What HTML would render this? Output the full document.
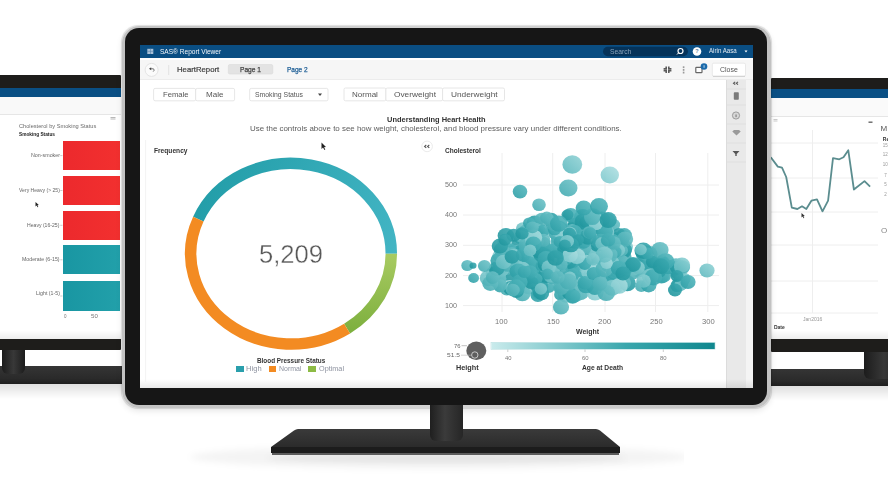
<!DOCTYPE html>
<html><head><meta charset="utf-8">
<style>
html,body{margin:0;padding:0}
body{width:888px;height:500px;overflow:hidden;position:relative;background:#fff;font-family:"Liberation Sans",sans-serif;}
.abs{position:absolute}
.t{position:absolute;white-space:nowrap;line-height:1}
.b{font-weight:bold}
</style></head><body><div id="w" style="position:absolute;left:0;top:0;width:888px;height:500px;overflow:hidden;filter:blur(0.35px)">

<!-- ===== LEFT MONITOR ===== -->
<div class="abs" style="left:-70px;top:75px;width:190.8px;height:274.5px;background:#1e1d1b;border-radius:10px 1px 1px 10px"></div>
<div class="abs" style="left:-70px;top:87.5px;width:190.8px;height:251px;background:#fff;overflow:hidden">
  <div class="abs" style="left:0;top:0;width:195px;height:9.7px;background:#0a4f84"></div>
  <div class="abs" style="left:0;top:9.7px;width:195px;height:17.3px;background:#f9f9f9;border-bottom:1px solid #e6e6e6"></div>
  <div class="abs" style="left:0;top:242px;width:195px;height:9px;background:linear-gradient(rgba(0,0,0,0),rgba(0,0,0,0.07))"></div>
</div>
<div class="abs" style="left:63px;top:140.7px;width:57px;height:29.7px;background:linear-gradient(90deg,#ec292d,#f2302f)"></div>
<div class="abs" style="left:63px;top:176px;width:57px;height:29px;background:linear-gradient(90deg,#ec292d,#f2302f)"></div>
<div class="abs" style="left:63px;top:210.5px;width:57px;height:29.5px;background:linear-gradient(90deg,#ec292d,#f2302f)"></div>
<div class="abs" style="left:63px;top:245.3px;width:57px;height:29px;background:linear-gradient(90deg,#1996a2,#22a0aa)"></div>
<div class="abs" style="left:63px;top:281px;width:57px;height:30px;background:linear-gradient(90deg,#1996a2,#22a0aa)"></div>
<svg class="abs" style="left:0;top:0" width="130" height="330">
  <g stroke="#aaa" stroke-width="0.6"><line x1="60.3" y1="155.6" x2="62.5" y2="155.6"/><line x1="60.3" y1="190.5" x2="62.5" y2="190.5"/><line x1="60.3" y1="225.3" x2="62.5" y2="225.3"/><line x1="60.3" y1="259.8" x2="62.5" y2="259.8"/><line x1="60.3" y1="296" x2="62.5" y2="296"/></g>
  <path d="M110.5,117.5 L115.5,117.5 M110.5,119 L115.5,119" stroke="#999" stroke-width="0.7"/>
  <path d="M35.5,202 L35.5,206.5 L36.6,205.5 L37.6,207.3 L38.3,207 L37.4,205.2 L38.8,205 Z" fill="#222"/>
</svg>
<!-- left stand -->
<div class="abs" style="left:0;top:383px;width:122px;height:16px;background:linear-gradient(rgba(0,0,0,0.13),rgba(0,0,0,0))"></div>
<div class="abs" style="left:-20px;top:365.5px;width:145px;height:18px;background:linear-gradient(#353535,#2a2a2a 70%,#1f1f1f)"></div>
<div class="abs" style="left:2px;top:349.5px;width:23px;height:24.5px;background:linear-gradient(90deg,#1c1c1c,#383838 50%,#1c1c1c);border-radius:0 0 6px 6px"></div>

<!-- ===== RIGHT MONITOR ===== -->
<div class="abs" style="left:770.5px;top:77.5px;width:200px;height:274.5px;background:#1e1d1b;border-radius:1px 10px 10px 1px"></div>
<div class="abs" style="left:770.5px;top:88.5px;width:130px;height:250.5px;background:#fff;overflow:hidden">
  <div class="abs" style="left:0;top:0;width:130px;height:9.5px;background:#0a4f84"></div>
  <div class="abs" style="left:0;top:9.5px;width:130px;height:18px;background:#fafafa;border-bottom:1px solid #e6e6e6"></div>
  <div class="abs" style="left:0;top:241.5px;width:130px;height:9px;background:linear-gradient(rgba(0,0,0,0),rgba(0,0,0,0.07))"></div>
</div>
<svg class="abs" style="left:0;top:0" width="888" height="500">
  <line x1="768" y1="143" x2="878" y2="143" stroke="#eee"/>
  <line x1="768" y1="178" x2="878" y2="178" stroke="#eee"/>
  <line x1="768" y1="212" x2="878" y2="212" stroke="#eee"/>
  <line x1="768" y1="245" x2="878" y2="245" stroke="#eee"/>
  <line x1="768" y1="281" x2="878" y2="281" stroke="#eee"/>
  <line x1="768" y1="313" x2="878" y2="313" stroke="#eee"/>
  <line x1="812.5" y1="130" x2="812.5" y2="313" stroke="#eee"/>
  <path d="M801.5,213 L801.5,217.5 L802.6,216.5 L803.6,218.3 L804.3,218 L803.4,216.2 L804.8,216 Z" fill="#333"/>
  <polyline points="770.8,157.3 777.8,166.6 782,167.7 786.2,177 791.8,207.7 797.4,209 802,206.3 806.3,209 811.4,200.7 817,199.3 822.5,211.3 828.1,200.7 833,158.2 839.3,159.3 843.5,157.3 848.3,150.3 853.9,189.5 864.5,181.1 870.1,186.7" fill="none" stroke="#5b8d8f" stroke-width="1.8" stroke-linejoin="round"/>
  <rect x="868.5" y="121.5" width="4" height="1.4" fill="#666"/><path d="M773.5,119.5 L777.5,119.5 M773.5,121 L777.5,121" stroke="#aaa" stroke-width="0.6"/>
</svg>
<!-- right stand -->
<div class="abs" style="left:768px;top:385.5px;width:130px;height:15px;background:linear-gradient(rgba(0,0,0,0.12),rgba(0,0,0,0))"></div>
<div class="abs" style="left:768px;top:369px;width:130px;height:16.5px;background:linear-gradient(#353535,#2a2a2a 70%,#1f1f1f)"></div>
<div class="abs" style="left:864px;top:351.5px;width:40px;height:27px;background:linear-gradient(90deg,#1c1c1c,#383838 50%,#1c1c1c);border-radius:0 0 6px 6px"></div>

<!-- ===== CENTER MONITOR ===== -->
<div class="abs" style="left:121.8px;top:25.5px;width:649px;height:382px;background:linear-gradient(90deg,#c2c2c2,#d4d4d4 50%,#c2c2c2);border-radius:17px;box-shadow:0 0 1px 0.3px rgba(0,0,0,0.12), 0 3px 6px rgba(0,0,0,0.10)"></div>
<div class="abs" style="left:125px;top:28.4px;width:641.7px;height:376.6px;background:#161616;border-radius:14px"></div>
<div class="abs" style="left:139.5px;top:45.2px;width:613px;height:343.3px;background:#fff;overflow:hidden">
  <!-- header -->
  <div class="abs" style="left:0;top:0;width:100%;height:12.5px;background:#0a4e83"></div>
  <!-- toolbar -->
  <div class="abs" style="left:0;top:14.5px;width:100%;height:20.5px;background:#f6f6f6;border-bottom:1px solid #ececec;box-sizing:border-box"></div>
  <!-- sidebar -->
  <div class="abs" style="left:586.5px;top:35px;width:19px;height:308.3px;background:#e9e9e9;border-left:1px solid #dcdcdc"></div>
  <div class="abs" style="left:606.5px;top:35px;width:7px;height:308.3px;background:#f4f4f4"></div>
  <!-- bottom shade -->
  <div class="abs" style="left:0;top:334px;width:100%;height:9.3px;background:linear-gradient(rgba(0,0,0,0),rgba(0,0,0,0.085))"></div>
</div>

<!-- header content -->
<svg class="abs" style="left:0;top:0" width="888" height="500">
  <rect x="147.3" y="48.8" width="6" height="5.2" fill="#a9c1d8"/>
  <rect x="147.3" y="50.9" width="6" height="0.6" fill="#5b86ad"/>
  <rect x="150" y="48.8" width="0.6" height="5.2" fill="#5b86ad"/>
  <rect x="603" y="46.8" width="85" height="9.4" rx="4.7" fill="#05335a"/>
  <circle cx="680.5" cy="51" r="2.5" fill="none" stroke="#fff" stroke-width="1.2"/>
  <line x1="678.7" y1="52.8" x2="677" y2="54.5" stroke="#fff" stroke-width="1"/>
  <circle cx="697" cy="51.5" r="4.3" fill="#fff"/>
  <path d="M744.5,50.5 L747.5,50.5 L746,52.5 Z" fill="#fff"/>
  <!-- toolbar icons -->
  <circle cx="151.6" cy="69.9" r="6.5" fill="#fbfbfb" stroke="#dedede" stroke-width="0.8"/>
  <path d="M150,68.8 L153.5,68.8 Q155,70.2 153.2,71.6" fill="none" stroke="#666" stroke-width="0.9"/>
  <path d="M149,68.8 L151.2,67.3 L151.2,70.3 Z" fill="#444"/>
  <line x1="168.7" y1="65" x2="168.7" y2="75" stroke="#dcdcdc" stroke-width="0.8"/>
  <rect x="228.3" y="64.5" width="44.5" height="9.5" rx="1.5" fill="#e3e3e3" stroke="#dadada" stroke-width="0.6"/>
  <!-- expand icon -->
  <path d="M663.6,68.8 L666.2,68.8 L666.2,66.4 M671.4,68.8 L668.8,68.8 L668.8,66.4 M663.6,70.6 L666.2,70.6 L666.2,73 M671.4,70.6 L668.8,70.6 L668.8,73" fill="none" stroke="#5a5a5a" stroke-width="1.6"/>
  <rect x="682.8" y="66.3" width="1.6" height="1.8" fill="#9a9a9a"/>
  <rect x="682.8" y="69" width="1.6" height="1.8" fill="#9a9a9a"/>
  <rect x="682.8" y="71.7" width="1.6" height="1.8" fill="#9a9a9a"/>
  <rect x="695.8" y="67.3" width="6.2" height="5.4" rx="0.6" fill="#fff" stroke="#666" stroke-width="1.2"/>
  <circle cx="704" cy="66.5" r="3.3" fill="#1a6aab"/>
  <rect x="703.7" y="65.2" width="0.7" height="2.6" fill="#fff"/>
  <rect x="712.3" y="63.2" width="33.2" height="13.2" rx="1.5" fill="#fff" stroke="#dedede" stroke-width="0.6"/>
  <line x1="713" y1="76.3" x2="745" y2="76.3" stroke="#c8c8c8" stroke-width="0.9"/>
</svg>

<!-- control buttons -->
<svg class="abs" style="left:0;top:0" width="888" height="500">
  <g fill="#fff" stroke="#e0e0e0" stroke-width="0.8">
    <rect x="153.6" y="88.4" width="42.1" height="12.4" rx="1.5"/>
    <rect x="195.7" y="88.4" width="38.9" height="12.4" rx="1.5"/>
    <rect x="249.7" y="88.4" width="78.3" height="12.4" rx="1.5"/>
    <rect x="344" y="88" width="41.9" height="12.8" rx="1.5"/>
    <rect x="385.9" y="88" width="56.7" height="12.8" rx="1.5"/>
    <rect x="442.6" y="88" width="61.9" height="12.8" rx="1.5"/>
  </g>
  <path d="M318,93.5 L322,93.5 L320,96 Z" fill="#444"/>
  <!-- sidebar icons -->
  <line x1="727" y1="89" x2="746" y2="89" stroke="#dadada" stroke-width="0.6"/>
  <line x1="727" y1="105" x2="746" y2="105" stroke="#dadada" stroke-width="0.6"/>
  <line x1="727" y1="124" x2="746" y2="124" stroke="#dadada" stroke-width="0.6"/>
  <line x1="727" y1="143" x2="746" y2="143" stroke="#dadada" stroke-width="0.6"/>
  <line x1="727" y1="162" x2="746" y2="162" stroke="#dadada" stroke-width="0.6"/>
  <path d="M735.2,81.8 L733.5,83.2 L735.2,84.6 M738,81.8 L736.3,83.2 L738,84.6" fill="none" stroke="#555" stroke-width="1.1"/>
  <rect x="733.8" y="92.3" width="5" height="7.5" rx="0.8" fill="#7a7a7a"/>
  <circle cx="736" cy="115.5" r="3.6" fill="#d6d6d6" stroke="#8a8a8a" stroke-width="0.8"/>
  <rect x="735.6" y="114.5" width="0.9" height="2.6" fill="#666"/>
  <path d="M732.3,131.5 L734,130 L739,130 L740.7,131.5 L736.5,135.5 Z" fill="#9a9a9a"/>
  <path d="M732.5,151 L739.5,151 L736.7,154 L736.7,156 L735.3,156 L735.3,154 Z" fill="#555"/>
  <!-- collapse button -->
  <circle cx="427.1" cy="146.4" r="5.3" fill="#fff" stroke="#e2e2e2" stroke-width="0.7"/>
  <path d="M426.3,145 L424.6,146.4 L426.3,147.8 M429.3,145 L427.6,146.4 L429.3,147.8" fill="none" stroke="#555" stroke-width="1.1"/>
  <!-- cursor -->
  <path d="M321.5,142.5 L321.5,149 L323,147.6 L324.5,150 L325.3,149.5 L324,147.2 L326,147 Z" fill="#222"/>
  <!-- panel border -->
  <line x1="145.6" y1="140" x2="145.6" y2="382" stroke="#efefef" stroke-width="0.8"/>
</svg>


<svg class="abs" style="left:0;top:0" width="888" height="500">
<defs><linearGradient id="tg" gradientUnits="userSpaceOnUse" x1="200" y1="180" x2="397" y2="253"><stop offset="0" stop-color="#229da8"/><stop offset="1" stop-color="#43b5c4"/></linearGradient>
<linearGradient id="gg" gradientUnits="userSpaceOnUse" x1="0" y1="253" x2="0" y2="330"><stop offset="0" stop-color="#a9cb62"/><stop offset="1" stop-color="#7eb03f"/></linearGradient></defs>
<path d="M198.33,219.14 A100.3,90.3 0 0 1 391.30,253.70" stroke="url(#tg)" stroke-width="11.5" fill="none"/>
<path d="M391.30,253.70 A100.3,90.3 0 0 1 347.09,328.56" stroke="url(#gg)" stroke-width="11.5" fill="none"/>
<path d="M347.09,328.56 A100.3,90.3 0 0 1 198.33,219.14" stroke="#f38b22" stroke-width="11.5" fill="none"/>
</svg>
<div class="abs" style="left:236px;top:366.2px;width:7.5px;height:6.3px;background:#2a9fac"></div>
<div class="abs" style="left:268.5px;top:366.2px;width:7.5px;height:6.3px;background:#f38b22"></div>
<div class="abs" style="left:308.4px;top:366.2px;width:7.5px;height:6.3px;background:#8dbb45"></div>

<svg class="abs" style="left:0;top:0" width="888" height="500">
<defs><linearGradient id="g1" x1="0" y1="1" x2="1" y2="0"><stop offset="0" stop-color="#1c939b"/><stop offset="1" stop-color="#3eaab1"/></linearGradient><linearGradient id="g2" x1="0" y1="1" x2="1" y2="0"><stop offset="0" stop-color="#2a9da5"/><stop offset="1" stop-color="#56b8be"/></linearGradient><linearGradient id="g3" x1="0" y1="1" x2="1" y2="0"><stop offset="0" stop-color="#3ea8af"/><stop offset="1" stop-color="#72c4c9"/></linearGradient><linearGradient id="g4" x1="0" y1="1" x2="1" y2="0"><stop offset="0" stop-color="#5ab7bd"/><stop offset="1" stop-color="#93d3d6"/></linearGradient><linearGradient id="g5" x1="0" y1="1" x2="1" y2="0"><stop offset="0" stop-color="#7ac7cc"/><stop offset="1" stop-color="#b0e0e2"/></linearGradient><linearGradient id="ag" x1="0" x2="1"><stop offset="0" stop-color="#c9ebec"/><stop offset="0.6" stop-color="#3aa7ad"/><stop offset="1" stop-color="#0f878e"/></linearGradient></defs>
<line x1="463" y1="185" x2="719" y2="185" stroke="#eeeeee" stroke-width="1"/><line x1="463" y1="215" x2="719" y2="215" stroke="#eeeeee" stroke-width="1"/><line x1="463" y1="245.3" x2="719" y2="245.3" stroke="#eeeeee" stroke-width="1"/><line x1="463" y1="275.6" x2="719" y2="275.6" stroke="#eeeeee" stroke-width="1"/><line x1="463" y1="305.6" x2="719" y2="305.6" stroke="#eeeeee" stroke-width="1"/><line x1="502" y1="153" x2="502" y2="312" stroke="#eeeeee" stroke-width="1"/><line x1="552.7" y1="153" x2="552.7" y2="312" stroke="#eeeeee" stroke-width="1"/><line x1="605" y1="153" x2="605" y2="312" stroke="#eeeeee" stroke-width="1"/><line x1="655.5" y1="153" x2="655.5" y2="312" stroke="#eeeeee" stroke-width="1"/><line x1="707.8" y1="153" x2="707.8" y2="312" stroke="#eeeeee" stroke-width="1"/>
<ellipse cx="551.2" cy="220.1" rx="7.8" ry="7.3" fill="url(#g1)" fill-opacity="0.9"/><ellipse cx="572.0" cy="229.1" rx="7.5" ry="7.0" fill="url(#g1)" fill-opacity="0.9"/><ellipse cx="505.9" cy="235.8" rx="8.3" ry="7.7" fill="url(#g1)" fill-opacity="0.9"/><ellipse cx="502.7" cy="262.1" rx="6.5" ry="6.0" fill="url(#g1)" fill-opacity="0.9"/><ellipse cx="525.3" cy="273.0" rx="7.2" ry="6.7" fill="url(#g2)" fill-opacity="0.9"/><ellipse cx="534.7" cy="223.0" rx="8.2" ry="7.6" fill="url(#g1)" fill-opacity="0.9"/><ellipse cx="606.4" cy="257.5" rx="8.5" ry="7.9" fill="url(#g4)" fill-opacity="0.9"/><ellipse cx="578.7" cy="265.9" rx="6.2" ry="5.7" fill="url(#g3)" fill-opacity="0.9"/><ellipse cx="572.0" cy="280.7" rx="6.4" ry="5.9" fill="url(#g3)" fill-opacity="0.9"/><ellipse cx="602.8" cy="283.9" rx="8.3" ry="7.7" fill="url(#g2)" fill-opacity="0.9"/><ellipse cx="633.0" cy="264.4" rx="7.6" ry="7.1" fill="url(#g3)" fill-opacity="0.9"/><ellipse cx="548.1" cy="262.8" rx="7.9" ry="7.3" fill="url(#g3)" fill-opacity="0.9"/><ellipse cx="542.6" cy="243.6" rx="7.9" ry="7.3" fill="url(#g1)" fill-opacity="0.9"/><ellipse cx="588.6" cy="226.8" rx="6.8" ry="6.3" fill="url(#g4)" fill-opacity="0.9"/><ellipse cx="534.5" cy="244.1" rx="8.5" ry="7.9" fill="url(#g1)" fill-opacity="0.9"/><ellipse cx="516.6" cy="245.2" rx="6.8" ry="6.3" fill="url(#g1)" fill-opacity="0.9"/><ellipse cx="571.4" cy="240.9" rx="8.5" ry="7.9" fill="url(#g2)" fill-opacity="0.9"/><ellipse cx="531.3" cy="253.5" rx="7.7" ry="7.1" fill="url(#g2)" fill-opacity="0.9"/><ellipse cx="542.0" cy="219.6" rx="7.5" ry="6.9" fill="url(#g3)" fill-opacity="0.9"/><ellipse cx="593.4" cy="266.8" rx="7.9" ry="7.3" fill="url(#g1)" fill-opacity="0.9"/><ellipse cx="580.5" cy="292.1" rx="8.7" ry="8.1" fill="url(#g3)" fill-opacity="0.9"/><ellipse cx="502.8" cy="268.4" rx="6.1" ry="5.7" fill="url(#g1)" fill-opacity="0.9"/><ellipse cx="584.3" cy="216.5" rx="7.4" ry="6.8" fill="url(#g3)" fill-opacity="0.9"/><ellipse cx="585.7" cy="236.2" rx="6.4" ry="5.9" fill="url(#g4)" fill-opacity="0.9"/><ellipse cx="555.4" cy="231.5" rx="8.4" ry="7.7" fill="url(#g1)" fill-opacity="0.9"/><ellipse cx="593.6" cy="225.5" rx="8.7" ry="8.1" fill="url(#g2)" fill-opacity="0.9"/><ellipse cx="512.3" cy="259.3" rx="6.0" ry="5.6" fill="url(#g3)" fill-opacity="0.9"/><ellipse cx="545.6" cy="269.3" rx="6.2" ry="5.7" fill="url(#g4)" fill-opacity="0.9"/><ellipse cx="537.4" cy="241.7" rx="6.4" ry="6.0" fill="url(#g4)" fill-opacity="0.9"/><ellipse cx="529.0" cy="259.2" rx="7.4" ry="6.9" fill="url(#g3)" fill-opacity="0.9"/><ellipse cx="529.1" cy="286.2" rx="8.8" ry="8.2" fill="url(#g4)" fill-opacity="0.9"/><ellipse cx="522.9" cy="228.9" rx="7.1" ry="6.6" fill="url(#g4)" fill-opacity="0.9"/><ellipse cx="529.9" cy="256.8" rx="7.0" ry="6.5" fill="url(#g1)" fill-opacity="0.9"/><ellipse cx="522.6" cy="265.5" rx="6.9" ry="6.4" fill="url(#g4)" fill-opacity="0.9"/><ellipse cx="560.2" cy="227.0" rx="6.6" ry="6.1" fill="url(#g2)" fill-opacity="0.9"/><ellipse cx="554.3" cy="253.3" rx="8.8" ry="8.2" fill="url(#g3)" fill-opacity="0.9"/><ellipse cx="680.2" cy="283.2" rx="8.1" ry="7.5" fill="url(#g3)" fill-opacity="0.9"/><ellipse cx="581.9" cy="279.3" rx="6.2" ry="5.7" fill="url(#g1)" fill-opacity="0.9"/><ellipse cx="679.1" cy="285.7" rx="6.4" ry="5.9" fill="url(#g4)" fill-opacity="0.9"/><ellipse cx="611.1" cy="252.4" rx="8.7" ry="8.0" fill="url(#g1)" fill-opacity="0.9"/><ellipse cx="600.7" cy="218.1" rx="6.0" ry="5.5" fill="url(#g4)" fill-opacity="0.9"/><ellipse cx="622.9" cy="257.7" rx="8.7" ry="8.0" fill="url(#g2)" fill-opacity="0.9"/><ellipse cx="677.5" cy="271.2" rx="8.3" ry="7.7" fill="url(#g3)" fill-opacity="0.9"/><ellipse cx="572.5" cy="296.8" rx="7.4" ry="6.9" fill="url(#g3)" fill-opacity="0.9"/><ellipse cx="513.4" cy="256.1" rx="8.5" ry="7.9" fill="url(#g4)" fill-opacity="0.9"/><ellipse cx="517.9" cy="252.3" rx="8.1" ry="7.5" fill="url(#g3)" fill-opacity="0.9"/><ellipse cx="493.6" cy="273.2" rx="7.5" ry="6.9" fill="url(#g3)" fill-opacity="0.9"/><ellipse cx="534.7" cy="232.7" rx="8.2" ry="7.6" fill="url(#g3)" fill-opacity="0.9"/><ellipse cx="613.4" cy="224.9" rx="6.7" ry="6.2" fill="url(#g3)" fill-opacity="0.9"/><ellipse cx="597.3" cy="252.8" rx="8.7" ry="8.0" fill="url(#g4)" fill-opacity="0.9"/><ellipse cx="595.1" cy="292.6" rx="8.6" ry="8.0" fill="url(#g5)" fill-opacity="0.9"/><ellipse cx="627.3" cy="283.4" rx="8.6" ry="7.9" fill="url(#g1)" fill-opacity="0.9"/><ellipse cx="515.8" cy="271.8" rx="6.6" ry="6.1" fill="url(#g4)" fill-opacity="0.9"/><ellipse cx="574.9" cy="256.6" rx="6.9" ry="6.4" fill="url(#g2)" fill-opacity="0.9"/><ellipse cx="554.4" cy="250.9" rx="8.0" ry="7.4" fill="url(#g2)" fill-opacity="0.9"/><ellipse cx="552.9" cy="267.4" rx="7.4" ry="6.9" fill="url(#g1)" fill-opacity="0.9"/><ellipse cx="593.3" cy="254.5" rx="6.9" ry="6.4" fill="url(#g2)" fill-opacity="0.9"/><ellipse cx="492.7" cy="273.8" rx="7.2" ry="6.6" fill="url(#g1)" fill-opacity="0.9"/><ellipse cx="537.3" cy="265.8" rx="6.6" ry="6.1" fill="url(#g2)" fill-opacity="0.9"/><ellipse cx="508.4" cy="257.7" rx="6.6" ry="6.1" fill="url(#g1)" fill-opacity="0.9"/><ellipse cx="525.3" cy="249.6" rx="7.9" ry="7.3" fill="url(#g2)" fill-opacity="0.9"/><ellipse cx="521.7" cy="252.5" rx="8.7" ry="8.0" fill="url(#g1)" fill-opacity="0.9"/><ellipse cx="624.8" cy="270.0" rx="7.9" ry="7.3" fill="url(#g3)" fill-opacity="0.9"/><ellipse cx="663.1" cy="275.7" rx="7.8" ry="7.2" fill="url(#g2)" fill-opacity="0.9"/><ellipse cx="563.8" cy="255.6" rx="8.8" ry="8.1" fill="url(#g3)" fill-opacity="0.9"/><ellipse cx="533.3" cy="234.3" rx="7.3" ry="6.7" fill="url(#g1)" fill-opacity="0.9"/><ellipse cx="520.3" cy="238.5" rx="6.2" ry="5.7" fill="url(#g2)" fill-opacity="0.9"/><ellipse cx="590.6" cy="225.1" rx="7.4" ry="6.9" fill="url(#g1)" fill-opacity="0.9"/><ellipse cx="500.0" cy="286.7" rx="6.4" ry="5.9" fill="url(#g3)" fill-opacity="0.9"/><ellipse cx="531.2" cy="263.6" rx="7.5" ry="6.9" fill="url(#g4)" fill-opacity="0.9"/><ellipse cx="611.2" cy="281.4" rx="8.0" ry="7.4" fill="url(#g3)" fill-opacity="0.9"/><ellipse cx="512.9" cy="277.4" rx="7.8" ry="7.2" fill="url(#g1)" fill-opacity="0.9"/><ellipse cx="661.5" cy="276.5" rx="7.4" ry="6.9" fill="url(#g2)" fill-opacity="0.9"/><ellipse cx="641.4" cy="286.2" rx="6.3" ry="5.9" fill="url(#g3)" fill-opacity="0.9"/><ellipse cx="645.6" cy="261.8" rx="8.3" ry="7.7" fill="url(#g1)" fill-opacity="0.9"/><ellipse cx="661.8" cy="263.4" rx="8.5" ry="7.9" fill="url(#g3)" fill-opacity="0.9"/><ellipse cx="562.9" cy="250.1" rx="6.1" ry="5.6" fill="url(#g1)" fill-opacity="0.9"/><ellipse cx="617.8" cy="273.1" rx="7.4" ry="6.8" fill="url(#g1)" fill-opacity="0.9"/><ellipse cx="644.1" cy="252.4" rx="8.3" ry="7.7" fill="url(#g4)" fill-opacity="0.9"/><ellipse cx="538.4" cy="277.9" rx="6.5" ry="6.1" fill="url(#g4)" fill-opacity="0.9"/><ellipse cx="623.0" cy="251.0" rx="8.4" ry="7.8" fill="url(#g1)" fill-opacity="0.9"/><ellipse cx="585.4" cy="273.4" rx="8.2" ry="7.6" fill="url(#g3)" fill-opacity="0.9"/><ellipse cx="553.0" cy="270.2" rx="8.0" ry="7.4" fill="url(#g3)" fill-opacity="0.9"/><ellipse cx="539.1" cy="272.2" rx="8.0" ry="7.4" fill="url(#g3)" fill-opacity="0.9"/><ellipse cx="587.7" cy="275.9" rx="6.8" ry="6.3" fill="url(#g3)" fill-opacity="0.9"/><ellipse cx="582.6" cy="216.9" rx="8.5" ry="7.9" fill="url(#g2)" fill-opacity="0.9"/><ellipse cx="499.9" cy="279.7" rx="6.7" ry="6.2" fill="url(#g2)" fill-opacity="0.9"/><ellipse cx="509.2" cy="287.0" rx="7.4" ry="6.9" fill="url(#g5)" fill-opacity="0.9"/><ellipse cx="504.8" cy="241.5" rx="7.4" ry="6.8" fill="url(#g5)" fill-opacity="0.9"/><ellipse cx="588.2" cy="250.1" rx="6.8" ry="6.3" fill="url(#g1)" fill-opacity="0.9"/><ellipse cx="571.6" cy="242.6" rx="6.3" ry="5.8" fill="url(#g2)" fill-opacity="0.9"/><ellipse cx="559.4" cy="247.8" rx="6.7" ry="6.2" fill="url(#g1)" fill-opacity="0.9"/><ellipse cx="576.0" cy="236.6" rx="8.2" ry="7.6" fill="url(#g4)" fill-opacity="0.9"/><ellipse cx="600.8" cy="277.0" rx="6.1" ry="5.6" fill="url(#g4)" fill-opacity="0.9"/><ellipse cx="570.4" cy="266.5" rx="6.3" ry="5.9" fill="url(#g4)" fill-opacity="0.9"/><ellipse cx="508.0" cy="252.2" rx="6.9" ry="6.4" fill="url(#g2)" fill-opacity="0.9"/><ellipse cx="536.3" cy="278.9" rx="7.8" ry="7.3" fill="url(#g2)" fill-opacity="0.9"/><ellipse cx="624.3" cy="235.1" rx="7.6" ry="7.0" fill="url(#g2)" fill-opacity="0.9"/><ellipse cx="506.3" cy="269.3" rx="6.2" ry="5.7" fill="url(#g3)" fill-opacity="0.9"/><ellipse cx="536.8" cy="262.0" rx="8.5" ry="7.9" fill="url(#g4)" fill-opacity="0.9"/><ellipse cx="526.2" cy="232.0" rx="8.1" ry="7.5" fill="url(#g3)" fill-opacity="0.9"/><ellipse cx="590.7" cy="268.0" rx="8.5" ry="7.8" fill="url(#g2)" fill-opacity="0.9"/><ellipse cx="622.1" cy="248.2" rx="6.8" ry="6.3" fill="url(#g4)" fill-opacity="0.9"/><ellipse cx="514.0" cy="257.2" rx="7.9" ry="7.3" fill="url(#g4)" fill-opacity="0.9"/><ellipse cx="638.8" cy="269.7" rx="8.2" ry="7.6" fill="url(#g3)" fill-opacity="0.9"/><ellipse cx="498.7" cy="282.7" rx="5.9" ry="5.5" fill="url(#g1)" fill-opacity="0.9"/><ellipse cx="546.8" cy="217.8" rx="6.7" ry="6.2" fill="url(#g3)" fill-opacity="0.9"/><ellipse cx="576.2" cy="281.4" rx="6.2" ry="5.8" fill="url(#g2)" fill-opacity="0.9"/><ellipse cx="595.4" cy="263.3" rx="7.1" ry="6.5" fill="url(#g2)" fill-opacity="0.9"/><ellipse cx="674.7" cy="269.7" rx="6.2" ry="5.7" fill="url(#g2)" fill-opacity="0.9"/><ellipse cx="642.6" cy="255.5" rx="6.5" ry="6.1" fill="url(#g2)" fill-opacity="0.9"/><ellipse cx="548.6" cy="287.0" rx="6.6" ry="6.1" fill="url(#g2)" fill-opacity="0.9"/><ellipse cx="538.3" cy="293.9" rx="6.3" ry="5.8" fill="url(#g3)" fill-opacity="0.9"/><ellipse cx="589.1" cy="223.7" rx="6.6" ry="6.1" fill="url(#g2)" fill-opacity="0.9"/><ellipse cx="611.1" cy="246.5" rx="8.0" ry="7.4" fill="url(#g1)" fill-opacity="0.9"/><ellipse cx="566.5" cy="294.8" rx="8.5" ry="7.9" fill="url(#g4)" fill-opacity="0.9"/><ellipse cx="522.0" cy="270.2" rx="7.5" ry="6.9" fill="url(#g3)" fill-opacity="0.9"/><ellipse cx="562.3" cy="238.2" rx="6.4" ry="6.0" fill="url(#g1)" fill-opacity="0.9"/><ellipse cx="563.6" cy="281.9" rx="6.8" ry="6.3" fill="url(#g4)" fill-opacity="0.9"/><ellipse cx="560.1" cy="294.7" rx="6.0" ry="5.6" fill="url(#g2)" fill-opacity="0.9"/><ellipse cx="534.6" cy="267.5" rx="7.1" ry="6.6" fill="url(#g2)" fill-opacity="0.9"/><ellipse cx="536.5" cy="279.7" rx="8.6" ry="7.9" fill="url(#g2)" fill-opacity="0.9"/><ellipse cx="559.9" cy="238.5" rx="8.7" ry="8.1" fill="url(#g1)" fill-opacity="0.9"/><ellipse cx="537.7" cy="276.7" rx="6.9" ry="6.4" fill="url(#g2)" fill-opacity="0.9"/><ellipse cx="545.4" cy="277.2" rx="7.7" ry="7.1" fill="url(#g4)" fill-opacity="0.9"/><ellipse cx="531.5" cy="252.5" rx="8.7" ry="8.1" fill="url(#g4)" fill-opacity="0.9"/><ellipse cx="565.0" cy="230.1" rx="7.2" ry="6.7" fill="url(#g3)" fill-opacity="0.9"/><ellipse cx="509.2" cy="254.7" rx="6.0" ry="5.5" fill="url(#g5)" fill-opacity="0.9"/><ellipse cx="613.6" cy="237.8" rx="6.9" ry="6.4" fill="url(#g2)" fill-opacity="0.9"/><ellipse cx="652.4" cy="264.6" rx="7.4" ry="6.9" fill="url(#g2)" fill-opacity="0.9"/><ellipse cx="589.7" cy="276.0" rx="7.2" ry="6.7" fill="url(#g2)" fill-opacity="0.9"/><ellipse cx="509.2" cy="251.1" rx="8.5" ry="7.9" fill="url(#g2)" fill-opacity="0.9"/><ellipse cx="506.7" cy="289.1" rx="6.8" ry="6.3" fill="url(#g3)" fill-opacity="0.9"/><ellipse cx="538.9" cy="230.4" rx="6.7" ry="6.2" fill="url(#g3)" fill-opacity="0.9"/><ellipse cx="534.4" cy="229.5" rx="6.4" ry="5.9" fill="url(#g5)" fill-opacity="0.9"/><ellipse cx="535.4" cy="229.6" rx="7.5" ry="6.9" fill="url(#g3)" fill-opacity="0.9"/><ellipse cx="657.9" cy="270.3" rx="8.8" ry="8.2" fill="url(#g1)" fill-opacity="0.9"/><ellipse cx="578.6" cy="242.4" rx="8.5" ry="7.9" fill="url(#g2)" fill-opacity="0.9"/><ellipse cx="611.2" cy="267.0" rx="6.6" ry="6.1" fill="url(#g2)" fill-opacity="0.9"/><ellipse cx="488.4" cy="278.2" rx="8.6" ry="8.0" fill="url(#g4)" fill-opacity="0.9"/><ellipse cx="520.7" cy="236.2" rx="6.5" ry="6.0" fill="url(#g4)" fill-opacity="0.9"/><ellipse cx="589.0" cy="253.4" rx="7.1" ry="6.6" fill="url(#g4)" fill-opacity="0.9"/><ellipse cx="567.0" cy="260.0" rx="7.8" ry="7.2" fill="url(#g1)" fill-opacity="0.9"/><ellipse cx="623.7" cy="244.8" rx="6.7" ry="6.2" fill="url(#g2)" fill-opacity="0.9"/><ellipse cx="626.9" cy="246.8" rx="6.1" ry="5.6" fill="url(#g4)" fill-opacity="0.9"/><ellipse cx="604.6" cy="240.7" rx="7.2" ry="6.6" fill="url(#g4)" fill-opacity="0.9"/><ellipse cx="648.7" cy="285.2" rx="7.8" ry="7.2" fill="url(#g2)" fill-opacity="0.9"/><ellipse cx="569.4" cy="293.3" rx="7.3" ry="6.7" fill="url(#g1)" fill-opacity="0.9"/><ellipse cx="684.0" cy="278.7" rx="6.4" ry="6.0" fill="url(#g2)" fill-opacity="0.9"/><ellipse cx="542.3" cy="257.1" rx="8.6" ry="8.0" fill="url(#g1)" fill-opacity="0.9"/><ellipse cx="564.4" cy="280.4" rx="8.2" ry="7.6" fill="url(#g4)" fill-opacity="0.9"/><ellipse cx="616.5" cy="287.5" rx="6.4" ry="5.9" fill="url(#g4)" fill-opacity="0.9"/><ellipse cx="668.4" cy="267.1" rx="7.7" ry="7.2" fill="url(#g2)" fill-opacity="0.9"/><ellipse cx="567.9" cy="256.8" rx="7.1" ry="6.5" fill="url(#g1)" fill-opacity="0.9"/><ellipse cx="522.4" cy="293.4" rx="8.4" ry="7.8" fill="url(#g3)" fill-opacity="0.9"/><ellipse cx="611.9" cy="260.0" rx="7.8" ry="7.2" fill="url(#g2)" fill-opacity="0.9"/><ellipse cx="622.8" cy="235.8" rx="6.7" ry="6.2" fill="url(#g2)" fill-opacity="0.9"/><ellipse cx="624.9" cy="249.7" rx="7.2" ry="6.7" fill="url(#g1)" fill-opacity="0.9"/><ellipse cx="578.3" cy="266.9" rx="8.3" ry="7.7" fill="url(#g4)" fill-opacity="0.9"/><ellipse cx="519.5" cy="252.3" rx="6.3" ry="5.8" fill="url(#g1)" fill-opacity="0.9"/><ellipse cx="558.9" cy="241.5" rx="8.3" ry="7.7" fill="url(#g3)" fill-opacity="0.9"/><ellipse cx="498.1" cy="278.3" rx="8.2" ry="7.6" fill="url(#g3)" fill-opacity="0.9"/><ellipse cx="497.6" cy="280.2" rx="8.5" ry="7.9" fill="url(#g3)" fill-opacity="0.9"/><ellipse cx="557.2" cy="280.6" rx="6.4" ry="5.9" fill="url(#g5)" fill-opacity="0.9"/><ellipse cx="610.2" cy="266.6" rx="6.6" ry="6.1" fill="url(#g2)" fill-opacity="0.9"/><ellipse cx="517.1" cy="283.5" rx="6.3" ry="5.8" fill="url(#g3)" fill-opacity="0.9"/><ellipse cx="579.7" cy="257.1" rx="7.9" ry="7.4" fill="url(#g5)" fill-opacity="0.9"/><ellipse cx="566.7" cy="284.8" rx="6.7" ry="6.2" fill="url(#g2)" fill-opacity="0.9"/><ellipse cx="607.0" cy="241.0" rx="8.2" ry="7.6" fill="url(#g3)" fill-opacity="0.9"/><ellipse cx="530.6" cy="266.5" rx="8.7" ry="8.1" fill="url(#g2)" fill-opacity="0.9"/><ellipse cx="512.9" cy="266.6" rx="7.2" ry="6.7" fill="url(#g3)" fill-opacity="0.9"/><ellipse cx="604.8" cy="235.4" rx="7.5" ry="6.9" fill="url(#g3)" fill-opacity="0.9"/><ellipse cx="529.3" cy="263.4" rx="7.7" ry="7.1" fill="url(#g2)" fill-opacity="0.9"/><ellipse cx="560.6" cy="287.8" rx="6.4" ry="5.9" fill="url(#g1)" fill-opacity="0.9"/><ellipse cx="501.1" cy="268.8" rx="8.5" ry="7.9" fill="url(#g4)" fill-opacity="0.9"/><ellipse cx="539.3" cy="286.2" rx="8.8" ry="8.1" fill="url(#g1)" fill-opacity="0.9"/><ellipse cx="621.9" cy="261.2" rx="7.0" ry="6.4" fill="url(#g3)" fill-opacity="0.9"/><ellipse cx="607.3" cy="265.2" rx="7.4" ry="6.9" fill="url(#g3)" fill-opacity="0.9"/><ellipse cx="596.9" cy="245.6" rx="6.6" ry="6.1" fill="url(#g1)" fill-opacity="0.9"/><ellipse cx="594.0" cy="269.3" rx="7.8" ry="7.2" fill="url(#g2)" fill-opacity="0.9"/><ellipse cx="652.3" cy="276.5" rx="6.0" ry="5.5" fill="url(#g4)" fill-opacity="0.9"/><ellipse cx="576.1" cy="296.2" rx="6.2" ry="5.7" fill="url(#g3)" fill-opacity="0.9"/><ellipse cx="579.5" cy="227.6" rx="6.2" ry="5.8" fill="url(#g2)" fill-opacity="0.9"/><ellipse cx="498.8" cy="255.7" rx="6.4" ry="6.0" fill="url(#g5)" fill-opacity="0.9"/><ellipse cx="531.9" cy="279.4" rx="8.7" ry="8.1" fill="url(#g4)" fill-opacity="0.9"/><ellipse cx="612.3" cy="242.9" rx="8.4" ry="7.8" fill="url(#g5)" fill-opacity="0.9"/><ellipse cx="632.4" cy="271.5" rx="8.8" ry="8.1" fill="url(#g3)" fill-opacity="0.9"/><ellipse cx="583.9" cy="258.1" rx="6.0" ry="5.5" fill="url(#g1)" fill-opacity="0.9"/><ellipse cx="576.2" cy="277.5" rx="7.6" ry="7.0" fill="url(#g2)" fill-opacity="0.9"/><ellipse cx="604.3" cy="222.2" rx="6.0" ry="5.6" fill="url(#g1)" fill-opacity="0.9"/><ellipse cx="632.4" cy="268.4" rx="8.0" ry="7.4" fill="url(#g4)" fill-opacity="0.9"/><ellipse cx="680.4" cy="280.4" rx="6.2" ry="5.7" fill="url(#g4)" fill-opacity="0.9"/><ellipse cx="618.9" cy="233.7" rx="6.2" ry="5.8" fill="url(#g1)" fill-opacity="0.9"/><ellipse cx="654.2" cy="269.6" rx="6.8" ry="6.3" fill="url(#g2)" fill-opacity="0.9"/><ellipse cx="542.2" cy="276.6" rx="7.0" ry="6.5" fill="url(#g2)" fill-opacity="0.9"/><ellipse cx="649.2" cy="265.2" rx="7.3" ry="6.8" fill="url(#g2)" fill-opacity="0.9"/><ellipse cx="576.0" cy="282.3" rx="7.0" ry="6.4" fill="url(#g4)" fill-opacity="0.9"/><ellipse cx="662.1" cy="262.5" rx="6.8" ry="6.3" fill="url(#g2)" fill-opacity="0.9"/><ellipse cx="588.1" cy="284.7" rx="6.5" ry="6.0" fill="url(#g3)" fill-opacity="0.9"/><ellipse cx="607.2" cy="220.9" rx="8.3" ry="7.7" fill="url(#g4)" fill-opacity="0.9"/><ellipse cx="648.7" cy="254.0" rx="8.8" ry="8.2" fill="url(#g3)" fill-opacity="0.9"/><ellipse cx="653.1" cy="267.8" rx="7.0" ry="6.5" fill="url(#g2)" fill-opacity="0.9"/><ellipse cx="572.9" cy="269.6" rx="7.0" ry="6.5" fill="url(#g2)" fill-opacity="0.9"/><ellipse cx="537.9" cy="295.1" rx="7.4" ry="6.9" fill="url(#g2)" fill-opacity="0.9"/><ellipse cx="507.9" cy="264.4" rx="7.9" ry="7.4" fill="url(#g3)" fill-opacity="0.9"/><ellipse cx="622.2" cy="239.8" rx="6.9" ry="6.4" fill="url(#g1)" fill-opacity="0.9"/><ellipse cx="551.1" cy="251.3" rx="7.9" ry="7.4" fill="url(#g2)" fill-opacity="0.9"/><ellipse cx="546.3" cy="275.3" rx="8.4" ry="7.8" fill="url(#g1)" fill-opacity="0.9"/><ellipse cx="612.6" cy="239.9" rx="6.6" ry="6.1" fill="url(#g2)" fill-opacity="0.9"/><ellipse cx="516.2" cy="270.8" rx="6.5" ry="6.0" fill="url(#g1)" fill-opacity="0.9"/><ellipse cx="575.7" cy="224.6" rx="7.8" ry="7.2" fill="url(#g1)" fill-opacity="0.9"/><ellipse cx="541.8" cy="293.5" rx="7.3" ry="6.8" fill="url(#g1)" fill-opacity="0.9"/><ellipse cx="567.8" cy="284.1" rx="8.0" ry="7.4" fill="url(#g3)" fill-opacity="0.9"/><ellipse cx="536.6" cy="278.8" rx="6.0" ry="5.5" fill="url(#g2)" fill-opacity="0.9"/><ellipse cx="621.1" cy="250.4" rx="6.9" ry="6.3" fill="url(#g3)" fill-opacity="0.9"/><ellipse cx="568.0" cy="276.3" rx="6.4" ry="5.9" fill="url(#g4)" fill-opacity="0.9"/><ellipse cx="573.2" cy="250.5" rx="7.8" ry="7.2" fill="url(#g2)" fill-opacity="0.9"/><ellipse cx="594.0" cy="271.1" rx="8.5" ry="7.9" fill="url(#g5)" fill-opacity="0.9"/><ellipse cx="624.0" cy="282.8" rx="7.1" ry="6.5" fill="url(#g3)" fill-opacity="0.9"/><ellipse cx="527.9" cy="276.6" rx="8.7" ry="8.1" fill="url(#g2)" fill-opacity="0.9"/><ellipse cx="599.0" cy="276.7" rx="7.4" ry="6.9" fill="url(#g3)" fill-opacity="0.9"/><ellipse cx="643.3" cy="250.7" rx="8.8" ry="8.2" fill="url(#g1)" fill-opacity="0.9"/><ellipse cx="566.3" cy="281.3" rx="6.3" ry="5.8" fill="url(#g3)" fill-opacity="0.9"/><ellipse cx="572.5" cy="274.8" rx="7.0" ry="6.5" fill="url(#g2)" fill-opacity="0.9"/><ellipse cx="522.5" cy="269.2" rx="8.0" ry="7.4" fill="url(#g4)" fill-opacity="0.9"/><ellipse cx="544.8" cy="259.8" rx="6.3" ry="5.8" fill="url(#g4)" fill-opacity="0.9"/><ellipse cx="583.3" cy="283.4" rx="6.6" ry="6.1" fill="url(#g4)" fill-opacity="0.9"/><ellipse cx="562.8" cy="230.4" rx="7.2" ry="6.7" fill="url(#g1)" fill-opacity="0.9"/><ellipse cx="585.9" cy="285.5" rx="8.3" ry="7.7" fill="url(#g2)" fill-opacity="0.9"/><ellipse cx="533.9" cy="235.2" rx="7.3" ry="6.8" fill="url(#g2)" fill-opacity="0.9"/><ellipse cx="513.6" cy="235.3" rx="7.1" ry="6.5" fill="url(#g1)" fill-opacity="0.9"/><ellipse cx="510.9" cy="288.1" rx="7.8" ry="7.2" fill="url(#g1)" fill-opacity="0.9"/><ellipse cx="544.5" cy="265.8" rx="7.6" ry="7.1" fill="url(#g4)" fill-opacity="0.9"/><ellipse cx="531.4" cy="282.6" rx="7.0" ry="6.4" fill="url(#g1)" fill-opacity="0.9"/><ellipse cx="525.9" cy="245.2" rx="7.5" ry="6.9" fill="url(#g3)" fill-opacity="0.9"/><ellipse cx="676.0" cy="265.8" rx="8.2" ry="7.6" fill="url(#g3)" fill-opacity="0.9"/><ellipse cx="545.3" cy="254.4" rx="6.6" ry="6.1" fill="url(#g1)" fill-opacity="0.9"/><ellipse cx="602.1" cy="231.4" rx="6.6" ry="6.1" fill="url(#g1)" fill-opacity="0.9"/><ellipse cx="584.1" cy="260.7" rx="7.4" ry="6.8" fill="url(#g5)" fill-opacity="0.9"/><ellipse cx="511.8" cy="254.1" rx="7.4" ry="6.8" fill="url(#g3)" fill-opacity="0.9"/><ellipse cx="611.9" cy="278.5" rx="6.4" ry="5.9" fill="url(#g2)" fill-opacity="0.9"/><ellipse cx="583.0" cy="261.3" rx="7.9" ry="7.3" fill="url(#g4)" fill-opacity="0.9"/><ellipse cx="582.5" cy="247.6" rx="8.9" ry="8.2" fill="url(#g3)" fill-opacity="0.9"/><ellipse cx="496.6" cy="268.7" rx="7.8" ry="7.2" fill="url(#g1)" fill-opacity="0.9"/><ellipse cx="586.5" cy="280.7" rx="6.4" ry="5.9" fill="url(#g2)" fill-opacity="0.9"/><ellipse cx="638.0" cy="267.5" rx="6.9" ry="6.4" fill="url(#g4)" fill-opacity="0.9"/><ellipse cx="625.0" cy="239.1" rx="8.2" ry="7.6" fill="url(#g3)" fill-opacity="0.9"/><ellipse cx="572.9" cy="260.4" rx="8.4" ry="7.7" fill="url(#g2)" fill-opacity="0.9"/><ellipse cx="558.1" cy="254.4" rx="6.9" ry="6.4" fill="url(#g2)" fill-opacity="0.9"/><ellipse cx="588.3" cy="216.8" rx="6.5" ry="6.0" fill="url(#g4)" fill-opacity="0.9"/><ellipse cx="545.8" cy="263.6" rx="7.8" ry="7.2" fill="url(#g4)" fill-opacity="0.9"/><ellipse cx="569.3" cy="262.4" rx="7.1" ry="6.6" fill="url(#g1)" fill-opacity="0.9"/><ellipse cx="613.9" cy="270.8" rx="8.2" ry="7.6" fill="url(#g5)" fill-opacity="0.9"/><ellipse cx="599.6" cy="242.6" rx="6.4" ry="5.9" fill="url(#g3)" fill-opacity="0.9"/><ellipse cx="633.2" cy="264.6" rx="7.9" ry="7.3" fill="url(#g2)" fill-opacity="0.9"/><ellipse cx="518.3" cy="271.4" rx="8.5" ry="7.8" fill="url(#g2)" fill-opacity="0.9"/><ellipse cx="561.2" cy="287.3" rx="8.2" ry="7.6" fill="url(#g3)" fill-opacity="0.9"/><ellipse cx="594.9" cy="287.5" rx="8.2" ry="7.6" fill="url(#g2)" fill-opacity="0.9"/><ellipse cx="570.7" cy="215.2" rx="7.8" ry="7.2" fill="url(#g2)" fill-opacity="0.9"/><ellipse cx="677.1" cy="267.7" rx="7.2" ry="6.7" fill="url(#g1)" fill-opacity="0.9"/><ellipse cx="650.3" cy="276.4" rx="8.4" ry="7.8" fill="url(#g4)" fill-opacity="0.9"/><ellipse cx="589.6" cy="272.0" rx="8.5" ry="7.9" fill="url(#g5)" fill-opacity="0.9"/><ellipse cx="516.5" cy="291.1" rx="7.4" ry="6.8" fill="url(#g1)" fill-opacity="0.9"/><ellipse cx="583.4" cy="221.6" rx="8.8" ry="8.1" fill="url(#g1)" fill-opacity="0.9"/><ellipse cx="559.9" cy="269.5" rx="7.8" ry="7.2" fill="url(#g2)" fill-opacity="0.9"/><ellipse cx="584.9" cy="282.8" rx="7.3" ry="6.7" fill="url(#g2)" fill-opacity="0.9"/><ellipse cx="652.6" cy="261.7" rx="6.8" ry="6.3" fill="url(#g1)" fill-opacity="0.9"/><ellipse cx="616.8" cy="270.1" rx="8.3" ry="7.7" fill="url(#g3)" fill-opacity="0.9"/><ellipse cx="553.0" cy="265.6" rx="8.8" ry="8.1" fill="url(#g4)" fill-opacity="0.9"/><ellipse cx="513.2" cy="288.3" rx="7.6" ry="7.1" fill="url(#g5)" fill-opacity="0.9"/><ellipse cx="534.1" cy="243.7" rx="7.0" ry="6.5" fill="url(#g4)" fill-opacity="0.9"/><ellipse cx="677.1" cy="285.7" rx="6.8" ry="6.3" fill="url(#g1)" fill-opacity="0.9"/><ellipse cx="550.7" cy="231.8" rx="6.4" ry="5.9" fill="url(#g5)" fill-opacity="0.9"/><ellipse cx="605.8" cy="232.4" rx="8.4" ry="7.8" fill="url(#g4)" fill-opacity="0.9"/><ellipse cx="600.5" cy="282.7" rx="7.4" ry="6.8" fill="url(#g3)" fill-opacity="0.9"/><ellipse cx="498.7" cy="260.4" rx="8.3" ry="7.7" fill="url(#g2)" fill-opacity="0.9"/><ellipse cx="653.3" cy="277.2" rx="8.8" ry="8.2" fill="url(#g2)" fill-opacity="0.9"/><ellipse cx="613.5" cy="272.8" rx="7.3" ry="6.8" fill="url(#g2)" fill-opacity="0.9"/><ellipse cx="564.7" cy="259.1" rx="7.5" ry="6.9" fill="url(#g2)" fill-opacity="0.9"/><ellipse cx="584.8" cy="263.9" rx="6.5" ry="6.0" fill="url(#g2)" fill-opacity="0.9"/><ellipse cx="500.3" cy="285.6" rx="6.8" ry="6.3" fill="url(#g3)" fill-opacity="0.9"/><ellipse cx="604.2" cy="245.2" rx="7.4" ry="6.9" fill="url(#g1)" fill-opacity="0.9"/><ellipse cx="541.7" cy="265.7" rx="6.2" ry="5.8" fill="url(#g2)" fill-opacity="0.9"/><ellipse cx="604.8" cy="231.2" rx="8.2" ry="7.6" fill="url(#g2)" fill-opacity="0.9"/><ellipse cx="501.4" cy="249.7" rx="7.7" ry="7.1" fill="url(#g3)" fill-opacity="0.9"/><ellipse cx="604.2" cy="269.1" rx="8.7" ry="8.1" fill="url(#g3)" fill-opacity="0.9"/><ellipse cx="591.4" cy="223.3" rx="8.4" ry="7.8" fill="url(#g2)" fill-opacity="0.9"/><ellipse cx="490.3" cy="283.6" rx="8.0" ry="7.4" fill="url(#g3)" fill-opacity="0.9"/><ellipse cx="647.6" cy="253.3" rx="6.2" ry="5.8" fill="url(#g2)" fill-opacity="0.9"/><ellipse cx="545.7" cy="264.1" rx="8.2" ry="7.5" fill="url(#g1)" fill-opacity="0.9"/><ellipse cx="583.6" cy="242.2" rx="7.1" ry="6.6" fill="url(#g2)" fill-opacity="0.9"/><ellipse cx="585.9" cy="221.9" rx="6.6" ry="6.1" fill="url(#g1)" fill-opacity="0.9"/><ellipse cx="680.8" cy="284.9" rx="6.4" ry="5.9" fill="url(#g4)" fill-opacity="0.9"/><ellipse cx="618.2" cy="250.2" rx="6.9" ry="6.4" fill="url(#g4)" fill-opacity="0.9"/><ellipse cx="553.0" cy="278.6" rx="6.5" ry="6.0" fill="url(#g3)" fill-opacity="0.9"/><ellipse cx="601.7" cy="219.5" rx="8.5" ry="7.9" fill="url(#g2)" fill-opacity="0.9"/><ellipse cx="572.0" cy="229.7" rx="6.0" ry="5.6" fill="url(#g3)" fill-opacity="0.9"/><ellipse cx="588.0" cy="236.8" rx="8.6" ry="7.9" fill="url(#g1)" fill-opacity="0.9"/><ellipse cx="513.7" cy="256.3" rx="7.8" ry="7.2" fill="url(#g4)" fill-opacity="0.9"/><ellipse cx="543.0" cy="230.8" rx="6.5" ry="6.0" fill="url(#g2)" fill-opacity="0.9"/><ellipse cx="575.1" cy="231.2" rx="6.6" ry="6.1" fill="url(#g2)" fill-opacity="0.9"/><ellipse cx="492.6" cy="277.6" rx="6.8" ry="6.3" fill="url(#g3)" fill-opacity="0.9"/><ellipse cx="595.8" cy="223.6" rx="7.2" ry="6.7" fill="url(#g5)" fill-opacity="0.9"/><ellipse cx="570.0" cy="232.7" rx="6.5" ry="6.0" fill="url(#g4)" fill-opacity="0.9"/><ellipse cx="519.6" cy="282.0" rx="8.0" ry="7.4" fill="url(#g2)" fill-opacity="0.9"/><ellipse cx="612.1" cy="287.9" rx="8.5" ry="7.9" fill="url(#g4)" fill-opacity="0.9"/><ellipse cx="589.0" cy="232.4" rx="6.5" ry="6.1" fill="url(#g3)" fill-opacity="0.9"/><ellipse cx="627.4" cy="267.8" rx="6.5" ry="6.0" fill="url(#g2)" fill-opacity="0.9"/><ellipse cx="569.8" cy="277.2" rx="6.1" ry="5.6" fill="url(#g4)" fill-opacity="0.9"/><ellipse cx="556.5" cy="233.2" rx="7.8" ry="7.2" fill="url(#g3)" fill-opacity="0.9"/><ellipse cx="499.9" cy="246.0" rx="8.2" ry="7.6" fill="url(#g1)" fill-opacity="0.9"/><ellipse cx="561.7" cy="264.5" rx="6.0" ry="5.5" fill="url(#g3)" fill-opacity="0.9"/><ellipse cx="558.5" cy="229.5" rx="8.4" ry="7.7" fill="url(#g5)" fill-opacity="0.9"/><ellipse cx="550.6" cy="276.1" rx="7.1" ry="6.5" fill="url(#g4)" fill-opacity="0.9"/><ellipse cx="640.8" cy="249.6" rx="6.0" ry="5.6" fill="url(#g4)" fill-opacity="0.9"/><ellipse cx="529.2" cy="223.2" rx="6.2" ry="5.8" fill="url(#g2)" fill-opacity="0.9"/><ellipse cx="683.8" cy="278.9" rx="6.7" ry="6.2" fill="url(#g4)" fill-opacity="0.9"/><ellipse cx="611.9" cy="262.6" rx="7.5" ry="6.9" fill="url(#g4)" fill-opacity="0.9"/><ellipse cx="577.7" cy="240.1" rx="6.2" ry="5.8" fill="url(#g1)" fill-opacity="0.9"/><ellipse cx="590.2" cy="233.0" rx="6.3" ry="5.8" fill="url(#g2)" fill-opacity="0.9"/><ellipse cx="529.9" cy="271.9" rx="7.3" ry="6.7" fill="url(#g2)" fill-opacity="0.9"/><ellipse cx="516.2" cy="287.6" rx="8.7" ry="8.0" fill="url(#g2)" fill-opacity="0.9"/><ellipse cx="632.7" cy="264.7" rx="7.7" ry="7.1" fill="url(#g1)" fill-opacity="0.9"/><ellipse cx="554.5" cy="229.0" rx="6.9" ry="6.4" fill="url(#g2)" fill-opacity="0.9"/><ellipse cx="665.5" cy="261.4" rx="8.8" ry="8.2" fill="url(#g2)" fill-opacity="0.9"/><ellipse cx="534.8" cy="247.2" rx="7.8" ry="7.2" fill="url(#g2)" fill-opacity="0.9"/><ellipse cx="524.2" cy="271.9" rx="6.6" ry="6.1" fill="url(#g2)" fill-opacity="0.9"/><ellipse cx="619.3" cy="285.9" rx="8.5" ry="7.9" fill="url(#g5)" fill-opacity="0.9"/><ellipse cx="681.9" cy="267.3" rx="7.8" ry="7.2" fill="url(#g4)" fill-opacity="0.9"/><ellipse cx="683.4" cy="267.1" rx="6.7" ry="6.2" fill="url(#g3)" fill-opacity="0.9"/><ellipse cx="504.9" cy="239.8" rx="6.4" ry="6.0" fill="url(#g1)" fill-opacity="0.9"/><ellipse cx="539.1" cy="251.6" rx="7.5" ry="6.9" fill="url(#g1)" fill-opacity="0.9"/><ellipse cx="576.8" cy="256.2" rx="8.5" ry="7.9" fill="url(#g5)" fill-opacity="0.9"/><ellipse cx="569.4" cy="233.8" rx="6.6" ry="6.2" fill="url(#g1)" fill-opacity="0.9"/><ellipse cx="600.7" cy="241.7" rx="8.5" ry="7.9" fill="url(#g2)" fill-opacity="0.9"/><ellipse cx="614.8" cy="251.9" rx="6.8" ry="6.3" fill="url(#g2)" fill-opacity="0.9"/><ellipse cx="553.4" cy="223.9" rx="7.5" ry="7.0" fill="url(#g3)" fill-opacity="0.9"/><ellipse cx="539.4" cy="292.8" rx="6.6" ry="6.1" fill="url(#g1)" fill-opacity="0.9"/><ellipse cx="565.3" cy="249.0" rx="8.1" ry="7.5" fill="url(#g1)" fill-opacity="0.9"/><ellipse cx="540.9" cy="288.9" rx="6.2" ry="5.8" fill="url(#g4)" fill-opacity="0.9"/><ellipse cx="643.5" cy="281.0" rx="7.3" ry="6.8" fill="url(#g4)" fill-opacity="0.9"/><ellipse cx="618.7" cy="268.2" rx="8.0" ry="7.4" fill="url(#g2)" fill-opacity="0.9"/><ellipse cx="608.9" cy="254.8" rx="8.7" ry="8.1" fill="url(#g3)" fill-opacity="0.9"/><ellipse cx="512.9" cy="290.0" rx="6.8" ry="6.3" fill="url(#g3)" fill-opacity="0.9"/><ellipse cx="613.6" cy="243.0" rx="7.3" ry="6.7" fill="url(#g3)" fill-opacity="0.9"/><ellipse cx="543.4" cy="240.3" rx="7.0" ry="6.5" fill="url(#g3)" fill-opacity="0.9"/><ellipse cx="602.2" cy="243.5" rx="6.9" ry="6.4" fill="url(#g4)" fill-opacity="0.9"/><ellipse cx="546.0" cy="258.7" rx="8.3" ry="7.7" fill="url(#g2)" fill-opacity="0.9"/><ellipse cx="606.6" cy="263.2" rx="6.2" ry="5.7" fill="url(#g5)" fill-opacity="0.9"/><ellipse cx="533.4" cy="237.6" rx="8.8" ry="8.1" fill="url(#g5)" fill-opacity="0.9"/><ellipse cx="604.3" cy="254.7" rx="8.6" ry="8.0" fill="url(#g4)" fill-opacity="0.9"/><ellipse cx="548.7" cy="267.0" rx="7.2" ry="6.7" fill="url(#g4)" fill-opacity="0.9"/><ellipse cx="593.8" cy="273.5" rx="7.1" ry="6.6" fill="url(#g2)" fill-opacity="0.9"/><ellipse cx="570.1" cy="255.1" rx="7.8" ry="7.3" fill="url(#g5)" fill-opacity="0.9"/><ellipse cx="606.3" cy="293.0" rx="8.8" ry="8.1" fill="url(#g3)" fill-opacity="0.9"/><ellipse cx="568.4" cy="281.7" rx="8.6" ry="7.9" fill="url(#g3)" fill-opacity="0.9"/><ellipse cx="555.5" cy="258.0" rx="8.3" ry="7.7" fill="url(#g1)" fill-opacity="0.9"/><ellipse cx="559.8" cy="241.7" rx="6.2" ry="5.7" fill="url(#g2)" fill-opacity="0.9"/><ellipse cx="592.8" cy="216.1" rx="8.5" ry="7.9" fill="url(#g4)" fill-opacity="0.9"/><ellipse cx="503.5" cy="262.0" rx="7.8" ry="7.2" fill="url(#g4)" fill-opacity="0.9"/><ellipse cx="547.5" cy="274.1" rx="6.0" ry="5.5" fill="url(#g2)" fill-opacity="0.9"/><ellipse cx="567.5" cy="214.8" rx="6.0" ry="5.5" fill="url(#g1)" fill-opacity="0.9"/><ellipse cx="523.3" cy="254.8" rx="7.6" ry="7.0" fill="url(#g2)" fill-opacity="0.9"/><ellipse cx="512.0" cy="256.8" rx="7.4" ry="6.9" fill="url(#g1)" fill-opacity="0.9"/><ellipse cx="661.1" cy="266.3" rx="8.3" ry="7.7" fill="url(#g1)" fill-opacity="0.9"/><ellipse cx="623.0" cy="273.5" rx="7.6" ry="7.1" fill="url(#g1)" fill-opacity="0.9"/><ellipse cx="608.1" cy="239.9" rx="7.3" ry="6.7" fill="url(#g2)" fill-opacity="0.9"/><ellipse cx="532.4" cy="227.3" rx="6.4" ry="5.9" fill="url(#g3)" fill-opacity="0.9"/><ellipse cx="533.4" cy="244.0" rx="8.0" ry="7.4" fill="url(#g2)" fill-opacity="0.9"/><ellipse cx="571.0" cy="244.9" rx="8.0" ry="7.4" fill="url(#g1)" fill-opacity="0.9"/><ellipse cx="558.8" cy="223.7" rx="8.8" ry="8.1" fill="url(#g2)" fill-opacity="0.9"/><ellipse cx="567.1" cy="241.3" rx="6.9" ry="6.4" fill="url(#g4)" fill-opacity="0.9"/><ellipse cx="564.8" cy="245.3" rx="6.1" ry="5.7" fill="url(#g1)" fill-opacity="0.9"/><ellipse cx="572.9" cy="296.3" rx="7.6" ry="7.0" fill="url(#g2)" fill-opacity="0.9"/><ellipse cx="522.1" cy="233.4" rx="6.6" ry="6.1" fill="url(#g1)" fill-opacity="0.9"/><ellipse cx="599.9" cy="283.7" rx="7.6" ry="7.0" fill="url(#g3)" fill-opacity="0.9"/><ellipse cx="557.6" cy="277.2" rx="7.0" ry="6.5" fill="url(#g3)" fill-opacity="0.9"/><ellipse cx="530.0" cy="250.3" rx="6.3" ry="5.9" fill="url(#g4)" fill-opacity="0.9"/><ellipse cx="592.2" cy="217.6" rx="8.1" ry="7.5" fill="url(#g3)" fill-opacity="0.9"/><ellipse cx="592.9" cy="259.3" rx="6.7" ry="6.2" fill="url(#g4)" fill-opacity="0.9"/><ellipse cx="572.3" cy="164.5" rx="9.9" ry="9.2" fill="url(#g4)" fill-opacity="0.9"/><ellipse cx="609.8" cy="175.0" rx="9.2" ry="8.5" fill="url(#g5)" fill-opacity="0.9"/><ellipse cx="568.3" cy="188.0" rx="9.2" ry="8.5" fill="url(#g3)" fill-opacity="0.9"/><ellipse cx="520.0" cy="191.6" rx="7.3" ry="6.8" fill="url(#g2)" fill-opacity="0.9"/><ellipse cx="539.0" cy="204.7" rx="6.8" ry="6.3" fill="url(#g3)" fill-opacity="0.9"/><ellipse cx="583.7" cy="208.0" rx="8.1" ry="7.5" fill="url(#g2)" fill-opacity="0.9"/><ellipse cx="599.0" cy="206.3" rx="9.0" ry="8.3" fill="url(#g2)" fill-opacity="0.9"/><ellipse cx="608.2" cy="220.0" rx="8.6" ry="8.0" fill="url(#g1)" fill-opacity="0.9"/><ellipse cx="707.0" cy="270.5" rx="7.6" ry="7.0" fill="url(#g4)" fill-opacity="0.9"/><ellipse cx="467.3" cy="265.5" rx="6.0" ry="5.6" fill="url(#g3)" fill-opacity="0.9"/><ellipse cx="484.4" cy="266.0" rx="6.5" ry="6.0" fill="url(#g3)" fill-opacity="0.9"/><ellipse cx="473.0" cy="265.6" rx="3.5" ry="3.2" fill="url(#g1)" fill-opacity="0.9"/><ellipse cx="473.6" cy="278.0" rx="5.4" ry="5.0" fill="url(#g2)" fill-opacity="0.9"/><ellipse cx="561.0" cy="307.0" rx="8.1" ry="7.5" fill="url(#g3)" fill-opacity="0.9"/><ellipse cx="660.0" cy="250.0" rx="8.6" ry="8.0" fill="url(#g3)" fill-opacity="0.9"/><ellipse cx="682.0" cy="265.0" rx="8.1" ry="7.5" fill="url(#g4)" fill-opacity="0.9"/><ellipse cx="677.0" cy="276.0" rx="6.5" ry="6.0" fill="url(#g1)" fill-opacity="0.9"/><ellipse cx="688.0" cy="282.0" rx="7.6" ry="7.0" fill="url(#g2)" fill-opacity="0.9"/><ellipse cx="675.0" cy="290.0" rx="7.0" ry="6.5" fill="url(#g1)" fill-opacity="0.9"/>
<rect x="491.5" y="342.5" width="223.5" height="6.5" fill="url(#ag)"/>
<ellipse cx="476.3" cy="350.8" rx="10" ry="9.2" fill="#5f5f5f"/>
<circle cx="474.8" cy="355" r="3.2" fill="none" stroke="#e0e0e0" stroke-width="0.8"/>
<line x1="461.5" y1="345.7" x2="467" y2="345.7" stroke="#999" stroke-width="0.6"/>
<line x1="461" y1="355.2" x2="472" y2="355.2" stroke="#bbb" stroke-width="0.6"/>
<rect x="491" y="342.3" width="224" height="7" fill="none" stroke="#b9dfe1" stroke-width="0.6"/>
<line x1="507.8" y1="349.5" x2="507.8" y2="352" stroke="#aaa" stroke-width="0.6"/>
<line x1="585" y1="349.5" x2="585" y2="352" stroke="#aaa" stroke-width="0.6"/>
<line x1="663.3" y1="349.5" x2="663.3" y2="352" stroke="#aaa" stroke-width="0.6"/>
</svg>

<!-- ===== CENTER STAND ===== -->
<div class="abs" style="left:429.5px;top:405px;width:33px;height:36px;background:linear-gradient(90deg,#1f1f1f,#3b3b3b 45%,#262626);border-radius:0 0 6px 6px;z-index:2"></div>
<svg class="abs" style="left:0;top:0" width="888" height="500">
  <defs><filter id="bl" x="-20%" y="-100%" width="140%" height="300%"><feGaussianBlur stdDeviation="3"/></filter>
  <linearGradient id="bs" x1="0" y1="0" x2="0" y2="1"><stop offset="0" stop-color="#3a3a3a"/><stop offset="1" stop-color="#262626"/></linearGradient></defs>
  <clipPath id="sc"><rect x="170" y="405" width="514" height="75"/></clipPath>
  <g clip-path="url(#sc)"><ellipse cx="440" cy="457" rx="250" ry="12" fill="#000" fill-opacity="0.045" filter="url(#bl)"/></g>
  <ellipse cx="446" cy="458" rx="180" ry="4" fill="#000" fill-opacity="0.08" filter="url(#bl)"/>
  <path d="M298,429 L596,429 Q598,429 600,430.5 L620,447 L620,453 L271,453 L271,447 L294,430.5 Q296,429 298,429 Z" fill="url(#bs)"/>
  <rect x="271" y="447" width="349" height="6" fill="#1c1c1c"/>
  <rect x="272" y="453" width="347" height="2" fill="#5c5c5c"/>
</svg>

<div class="t" style="left:159.7px;top:47.77px;font-size:7.6px;color:#f2f6fa;transform:scaleX(0.8633);transform-origin:0 0">SAS® Report Viewer</div>
<div class="t" style="left:610.4px;top:48.50px;font-size:6.5px;color:#8aa3ba;transform:scaleX(1.0335);transform-origin:0 0">Search</div>
<div class="t b" style="left:695.3px;top:49.34px;font-size:5.5px;color:#5a7fa3;transform-origin:0 0">?</div>
<div class="t" style="left:709.3px;top:48.24px;font-size:6.8px;color:#dfe8f0;transform:scaleX(0.9082);transform-origin:0 0">Airin Aasa</div>
<div class="t" style="left:177.2px;top:65.87px;font-size:7.6px;color:#3d3d3d;-webkit-text-stroke:0.2px #3d3d3d;transform:scaleX(1.0199);transform-origin:0 0">HeartReport</div>
<div class="t" style="left:240.0px;top:66.37px;font-size:7.0px;color:#444444;-webkit-text-stroke:0.25px #444;transform:scaleX(0.9465);transform-origin:0 0">Page 1</div>
<div class="t" style="left:286.5px;top:66.37px;font-size:7.0px;color:#1f5f96;-webkit-text-stroke:0.25px #1f5f96;transform:scaleX(0.9330);transform-origin:0 0">Page 2</div>
<div class="t" style="left:719.9px;top:66.37px;font-size:7.0px;color:#555555;transform:scaleX(0.9941);transform-origin:0 0">Close</div>
<div class="t" style="left:162.6px;top:90.77px;font-size:7.0px;color:#555555;transform:scaleX(1.0967);transform-origin:0 0">Female</div>
<div class="t" style="left:206.3px;top:90.77px;font-size:7.0px;color:#555555;transform:scaleX(1.1523);transform-origin:0 0">Male</div>
<div class="t" style="left:254.7px;top:90.77px;font-size:7.0px;color:#555555;transform:scaleX(0.9790);transform-origin:0 0">Smoking Status</div>
<div class="t" style="left:352.2px;top:90.77px;font-size:7.0px;color:#555555;transform:scaleX(1.1479);transform-origin:0 0">Normal</div>
<div class="t" style="left:393.7px;top:90.77px;font-size:7.0px;color:#555555;transform:scaleX(1.1862);transform-origin:0 0">Overweight</div>
<div class="t" style="left:450.5px;top:90.77px;font-size:7.0px;color:#555555;transform:scaleX(1.1854);transform-origin:0 0">Underweight</div>
<div class="t b" style="left:386.8px;top:116.84px;font-size:6.8px;color:#333333;transform:scaleX(1.0969);transform-origin:0 0">Understanding Heart Health</div>
<div class="t" style="left:249.5px;top:124.90px;font-size:7.8px;color:#5c5c5c;transform:scaleX(1.0153);transform-origin:0 0">Use the controls above to see how weight, cholesterol, and blood pressure vary under different conditions.</div>
<div class="t b" style="left:153.7px;top:147.54px;font-size:6.8px;color:#333333;transform:scaleX(0.9745);transform-origin:0 0">Frequency</div>
<div class="t b" style="left:444.9px;top:147.80px;font-size:6.5px;color:#333333;transform:scaleX(1.0038);transform-origin:0 0">Cholesterol</div>
<div class="t" style="left:259.0px;top:241.63px;font-size:25.6px;color:#585858;-webkit-text-stroke:0.35px #fff;opacity:0.999;transform-origin:0 0">5,209</div>
<div class="t b" style="left:257.0px;top:357.84px;font-size:6.8px;color:#333333;transform:scaleX(0.9368);transform-origin:0 0">Blood Pressure Status</div>
<div class="t" style="left:246.2px;top:366.41px;font-size:6.6px;color:#8e93a0;transform:scaleX(1.1502);transform-origin:0 0">High</div>
<div class="t" style="left:278.6px;top:366.41px;font-size:6.6px;color:#8e93a0;transform:scaleX(1.0541);transform-origin:0 0">Normal</div>
<div class="t" style="left:319.2px;top:366.41px;font-size:6.6px;color:#8e93a0;transform:scaleX(1.1004);transform-origin:0 0">Optimal</div>
<div class="t" style="left:444.5px;top:182.00px;font-size:6.5px;color:#777777;transform:scaleX(1.1050);transform-origin:0 0">500</div>
<div class="t" style="left:444.5px;top:212.00px;font-size:6.5px;color:#777777;transform:scaleX(1.1050);transform-origin:0 0">400</div>
<div class="t" style="left:444.5px;top:242.10px;font-size:6.5px;color:#777777;transform:scaleX(1.1050);transform-origin:0 0">300</div>
<div class="t" style="left:444.5px;top:272.50px;font-size:6.5px;color:#777777;transform:scaleX(1.1050);transform-origin:0 0">200</div>
<div class="t" style="left:444.5px;top:302.50px;font-size:6.5px;color:#777777;transform:scaleX(1.1050);transform-origin:0 0">100</div>
<div class="t" style="left:495.2px;top:319.10px;font-size:6.5px;color:#777777;transform:scaleX(1.1603);transform-origin:0 0">100</div>
<div class="t" style="left:547.2px;top:319.10px;font-size:6.5px;color:#777777;transform:scaleX(1.1603);transform-origin:0 0">150</div>
<div class="t" style="left:598.2px;top:319.10px;font-size:6.5px;color:#777777;transform:scaleX(1.2155);transform-origin:0 0">200</div>
<div class="t" style="left:649.7px;top:319.10px;font-size:6.5px;color:#777777;transform:scaleX(1.1603);transform-origin:0 0">250</div>
<div class="t" style="left:701.7px;top:319.10px;font-size:6.5px;color:#777777;transform:scaleX(1.1695);transform-origin:0 0">300</div>
<div class="t b" style="left:576.2px;top:329.30px;font-size:6.5px;color:#333333;transform:scaleX(1.0721);transform-origin:0 0">Weight</div>
<div class="t" style="left:454.0px;top:342.92px;font-size:6.0px;color:#666666;transform:scaleX(0.9720);transform-origin:0 0">76</div>
<div class="t" style="left:447.0px;top:352.42px;font-size:6.0px;color:#666666;transform:scaleX(1.1123);transform-origin:0 0">51.5</div>
<div class="t" style="left:504.5px;top:354.62px;font-size:6.0px;color:#777777;transform:scaleX(0.9720);transform-origin:0 0">40</div>
<div class="t" style="left:581.7px;top:354.62px;font-size:6.0px;color:#777777;transform:scaleX(0.9869);transform-origin:0 0">60</div>
<div class="t" style="left:660.0px;top:354.62px;font-size:6.0px;color:#777777;transform:scaleX(0.9869);transform-origin:0 0">80</div>
<div class="t b" style="left:455.8px;top:364.80px;font-size:6.5px;color:#333333;transform:scaleX(1.1219);transform-origin:0 0">Height</div>
<div class="t b" style="left:581.9px;top:364.80px;font-size:6.5px;color:#333333;transform:scaleX(1.0319);transform-origin:0 0">Age at Death</div>
<div class="t" style="left:18.7px;top:122.75px;font-size:6.2px;color:#6a6a6a;transform:scaleX(0.9136);transform-origin:0 0">Cholesterol by Smoking Status</div>
<div class="t b" style="left:19.0px;top:132.37px;font-size:5.0px;color:#222222;transform:scaleX(0.9525);transform-origin:0 0">Smoking Status</div>
<div class="t" style="left:30.6px;top:154.24px;font-size:4.8px;color:#666666;transform:scaleX(1.1100);transform-origin:0 0">Non-smoker</div>
<div class="t" style="left:18.7px;top:188.74px;font-size:4.8px;color:#666666;transform:scaleX(1.0615);transform-origin:0 0">Very Heavy (&gt; 25)</div>
<div class="t" style="left:27.2px;top:223.54px;font-size:4.8px;color:#666666;transform:scaleX(1.0656);transform-origin:0 0">Heavy (16-25)</div>
<div class="t" style="left:22.0px;top:257.74px;font-size:4.8px;color:#666666;transform:scaleX(1.0928);transform-origin:0 0">Moderate (6-15)</div>
<div class="t" style="left:35.7px;top:291.64px;font-size:4.8px;color:#666666;transform:scaleX(1.0926);transform-origin:0 0">Light (1-5)</div>
<div class="t" style="left:64.0px;top:314.79px;font-size:4.5px;color:#777777;transform:scaleX(0.9938);transform-origin:0 0">0</div>
<div class="t" style="left:90.5px;top:314.79px;font-size:4.5px;color:#777777;transform:scaleX(1.3558);transform-origin:0 0">50</div>
<div class="t" style="left:880.5px;top:125.23px;font-size:8.0px;color:#555555;transform-origin:0 0">M</div>
<div class="t b" style="left:882.8px;top:136.57px;font-size:5.0px;color:#333333;transform-origin:0 0">Re</div>
<div class="t" style="left:882.8px;top:143.59px;font-size:4.5px;color:#999999;transform-origin:0 0">15</div>
<div class="t" style="left:882.8px;top:152.79px;font-size:4.5px;color:#999999;transform-origin:0 0">12</div>
<div class="t" style="left:882.8px;top:163.39px;font-size:4.5px;color:#999999;transform-origin:0 0">10</div>
<div class="t" style="left:884.3px;top:174.39px;font-size:4.5px;color:#999999;transform-origin:0 0">7</div>
<div class="t" style="left:884.3px;top:182.99px;font-size:4.5px;color:#999999;transform-origin:0 0">5</div>
<div class="t" style="left:884.3px;top:193.39px;font-size:4.5px;color:#999999;transform-origin:0 0">2</div>
<div class="t" style="left:881.0px;top:226.83px;font-size:8.0px;color:#888888;transform-origin:0 0">O</div>
<div class="t" style="left:802.8px;top:317.69px;font-size:4.5px;color:#999999;transform:scaleX(1.1226);transform-origin:0 0">Jan2016</div>
<div class="t b" style="left:773.5px;top:325.54px;font-size:4.8px;color:#333333;transform:scaleX(1.0378);transform-origin:0 0">Date</div>
</div></body></html>
